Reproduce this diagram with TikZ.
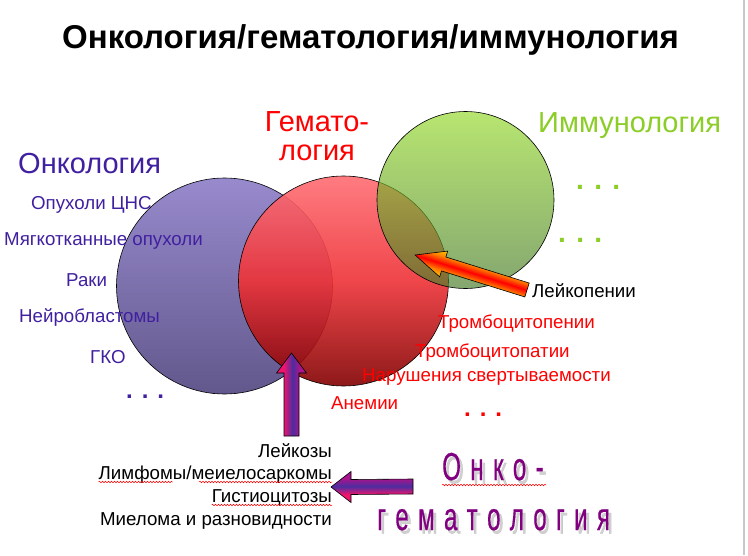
\documentclass[tikz,border=0pt]{standalone}
\usepackage{fontspec}
\setmainfont{Liberation Sans}
\newfontfamily\ogfont[FakeBold=0.6]{Liberation Sans}
\usetikzlibrary{decorations.pathmorphing,calc}
\definecolor{oncol}{RGB}{64,32,160}
\definecolor{immcol}{RGB}{140,205,40}
\definecolor{ogcol}{RGB}{128,0,128}
\definecolor{purtop}{RGB}{152,138,205}
\definecolor{purbot}{RGB}{98,88,140}
\definecolor{redtop}{RGB}{255,110,116}
\definecolor{redmid}{RGB}{238,50,55}
\definecolor{redbot}{RGB}{130,0,0}
\definecolor{grntop}{RGB}{150,218,45}
\definecolor{grnbot}{RGB}{75,125,45}
\definecolor{pinkred}{RGB}{240,20,110}
\definecolor{bluepur}{RGB}{75,45,160}
\definecolor{magpur}{RGB}{170,20,140}
\definecolor{edgegray}{RGB}{200,200,200}
\pgfdeclareverticalshading{orangearrow}{100bp}{color(0bp)=(yellow!80!orange); color(25bp)=(yellow!60!orange); color(37bp)=(orange); color(50bp)=(red); color(63bp)=(orange); color(75bp)=(yellow!60!orange); color(100bp)=(yellow!80!orange)}
\pgfdeclareverticalshading{hpurple}{100bp}{color(0bp)=(pinkred); color(38bp)=(pinkred); color(51bp)=(bluepur); color(64bp)=(magpur); color(100bp)=(magpur)}
\pgfdeclarehorizontalshading{vpurple}{100bp}{color(0bp)=(pinkred); color(37bp)=(pinkred); color(52bp)=(bluepur); color(63bp)=(magpur); color(100bp)=(magpur)}
\tikzset{
  circ/.style={circle, inner sep=0pt, draw=black, line width=0.6pt},
  txt/.style={inner sep=0pt, font=\fontsize{18.7}{20}\selectfont},
  big/.style={inner sep=0pt, font=\fontsize{29}{31}\selectfont},
  dotsn/.style={inner sep=0pt, anchor=base west},
  blockarr/.style={draw=black, line width=0.6pt, line join=miter},
  spell/.style={draw=red, line width=0.5pt, decorate, decoration={snake, amplitude=0.8pt, segment length=3pt}},
  ogtxt/.style={inner sep=0pt, text=ogcol, font=\ogfont\fontsize{39}{42}\selectfont},
  ogshadow/.style={ogtxt, text=black!40, opacity=0.45},
}
\newcommand{\og}{\hspace{15pt}}
\begin{document}
\begin{tikzpicture}[x=1pt, y=-1pt]
\useasboundingbox (0,0) rectangle (748,555);
\fill[white] (0,0) rectangle (748,555);
\draw[edgegray, line width=1.5pt] (744,0) -- (744,555);

% title
\node[inner sep=0pt, anchor=base, font=\fontsize{33}{36}\selectfont\bfseries] (title) at (370.5,48) {Онкология/гематология/иммунология};

% circles
\node[circ, minimum size=216pt, top color=purtop, bottom color=purbot] (onc) at (224.5,286) {};
\node[circ, minimum size=210pt, top color=redtop, bottom color=redbot, middle color=redmid, fill opacity=0.9] (hem) at (343.5,281) {};
\node[circ, minimum size=177pt, top color=grntop, bottom color=grnbot, fill opacity=0.68] (imm) at (465.5,200) {};

% headings
\node[big, text=oncol, anchor=base west] (onch) at (18,173) {Онкология};
\node[big, text=red, anchor=base] (hemh1) at (317,131) {Гемато-};
\node[big, text=red, anchor=base] (hemh2) at (317,160) {логия};
\node[big, text=immcol, anchor=base west] (immh) at (538,132) {Иммунология};

% oncology list
\node[txt, text=oncol, anchor=base west] (o1) at (31,209) {Опухоли ЦНС};
\node[txt, text=oncol, anchor=base west] (o2) at (4,245) {Мягкотканные опухоли};
\node[txt, text=oncol, anchor=base west] (o3) at (66,286) {Раки};
\node[txt, text=oncol, anchor=base west] (o4) at (19,322) {Нейробластомы};
\node[txt, text=oncol, anchor=base west] (o5) at (90,363) {ГКО};
\node[dotsn, text=oncol, font=\fontsize{24}{26}\selectfont\bfseries] (o6) at (126,398) {. . .};

% immunology dots
\node[dotsn, text=immcol, font=\fontsize{28}{30}\selectfont\bfseries] (i1) at (576,189) {. . .};
\node[dotsn, text=immcol, font=\fontsize{28}{30}\selectfont\bfseries] (i2) at (558,242) {. . .};

% hematology list
\node[txt, anchor=base west] (lkp) at (532,297) {Лейкопении};
\node[txt, text=red, anchor=base west] (h1) at (438,328) {Тромбоцитопении};
\node[txt, text=red, anchor=base west] (h2) at (415,357) {Тромбоцитопатии};
\node[txt, text=red, anchor=base west] (h3) at (362,381) {Нарушения свертываемости};
\node[txt, text=red, anchor=base west] (h4) at (331,409) {Анемии};
\node[dotsn, text=red, font=\fontsize{24}{26}\selectfont\bfseries] (h5) at (464,416) {. . .};

% onco-hematology list
\node[txt, anchor=base east] (l1) at (332,457) {Лейкозы};
\node[txt, anchor=base east] (l2) at (332,479) {Лимфомы/меиелосаркомы};
\node[txt, anchor=base east] (l3) at (332,502) {Гистиоцитозы};
\node[txt, anchor=base east] (l4) at (332,525) {Миелома и разновидности};

% spell-check underlines
\draw[spell] ($(l2.base west)+(0,3)$) -- ($(l2.base west)+(74,3)$);
\draw[spell] ($(l2.base east)+(-133,3)$) -- ($(l2.base east)+(0,3)$);
\draw[spell] ($(l3.base west)+(0,3)$) -- ($(l3.base east)+(0,3)$);

% Onko-hematology title with shadow
\node[ogshadow, anchor=base west] at (445,483.5) {\scalebox{0.62}[1]{О\og н\og к\og о\og -}};
\node[ogtxt, anchor=base west] (og1) at (442,480) {\scalebox{0.62}[1]{О\og н\og к\og о\og -}};
\node[ogshadow, anchor=base west] at (380,533.5) {\scalebox{0.62}[1]{г\og е\og м\og а\og т\og о\og л\og о\og г\og и\og я}};
\node[ogtxt, anchor=base west] (og2) at (377,530) {\scalebox{0.62}[1]{г\og е\og м\og а\og т\og о\og л\og о\og г\og и\og я}};
\draw[spell] ($(og1.base west)+(0,5)$) -- ($(og1.base west)+(104,5)$);

% arrows
\coordinate (vtail) at (291.5,436);
\coordinate (vtip) at (291.5,353);
\shadedraw[shading=vpurple, blockarr]
  ($(vtail)+(-7.5,0)$) -- ($(vtip)+(-7.5,20)$) -- ($(vtip)+(-15,20)$) -- (vtip)
  -- ($(vtip)+(15,20)$) -- ($(vtip)+(7.5,20)$) -- ($(vtail)+(7.5,0)$) -- cycle;

\coordinate (htail) at (413,486.5);
\coordinate (htip) at (331,487);
\shadedraw[shading=hpurple, blockarr]
  ($(htail)+(0,-7.5)$) -- ($(htip)+(20,-7.5)$) -- ($(htip)+(20,-15.5)$) -- (htip)
  -- ($(htip)+(20,15.5)$) -- ($(htip)+(20,7.5)$) -- ($(htail)+(0,7.5)$) -- cycle;

\coordinate (ltail) at (527,290);
\coordinate (ltip) at (415,255);
\begin{scope}[transform canvas={shift={(ltail)}, rotate=162.64}]
\shadedraw[shading=orangearrow, blockarr]
  (0,-7.3) -- (87.3,-7.3) -- (87.3,-13.5) -- (117.3,0) -- (87.3,13.5) -- (87.3,7.3) -- (0,7.3) -- cycle;
\end{scope}
\end{tikzpicture}
\end{document}
